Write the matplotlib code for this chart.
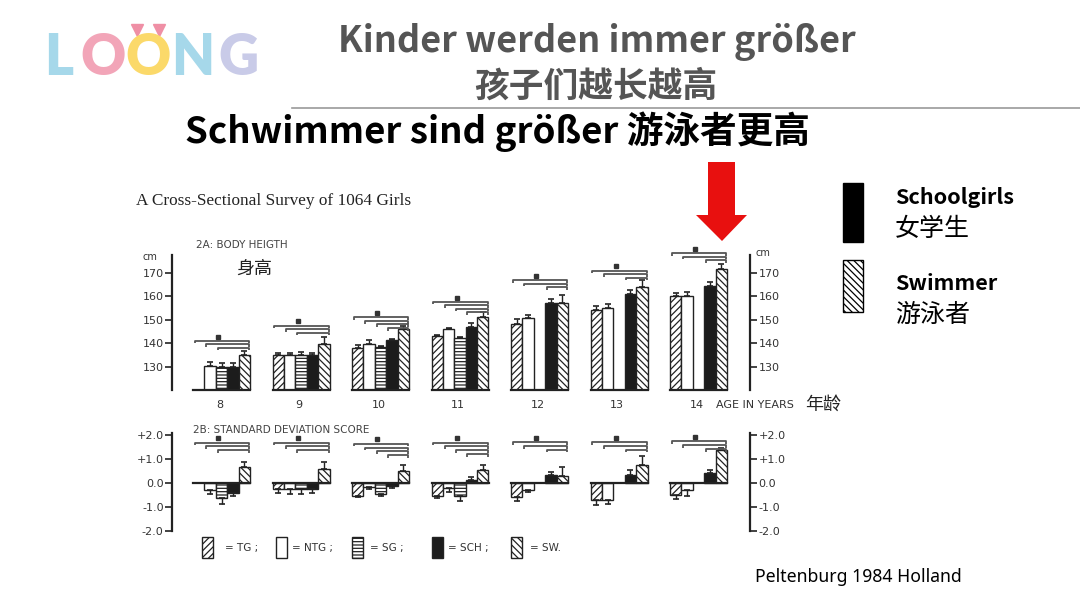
import numpy as np
import matplotlib.pyplot as plt
from matplotlib.patches import Rectangle, Polygon

plt.rcParams['font.family'] = ['DejaVu Sans', 'Noto Sans CJK SC']
plt.rcParams['hatch.linewidth'] = 0.9

CJK = ['Noto Sans CJK SC', 'DejaVu Sans']

# ---- data ----
ages = ['8', '9', '10', '11', '12', '13', '14']
groups = ['TG', 'NTG', 'SG', 'SCH', 'SW']
nan = np.nan

# 2A body height (cm)
height_tg = [nan, 135.0, 137.8, 143.1, 148.2, 154.2, 160.3]
height_ntg = [130.4, 135.0, 139.5, 146.0, 150.6, 154.9, 160.3]
height_sg = [130.0, 135.0, 138.4, 142.1, nan, nan, nan]
height_sch = [130.0, 134.8, 141.4, 147.0, 157.3, 161.0, 164.4]
height_sw = [134.8, 139.7, 145.9, 151.1, 157.3, 164.2, 171.7]

height_err_tg = [nan, 0.7, 1.4, 0.3, 2.0, 1.7, 1.3]
height_err_ntg = [1.4, 1.0, 1.9, 0.3, 1.3, 1.9, 1.7]
height_err_sg = [1.4, 1.3, 0.3, 0.4, nan, nan, nan]
height_err_sch = [1.4, 1.1, 0.2, 1.7, 1.4, 1.7, 1.6]
height_err_sw = [1.9, 2.8, 1.4, 2.4, 3.3, 2.6, 2.0]

# 2B standard deviation score
sds_tg = [nan, -0.25, -0.53, -0.55, -0.58, -0.70, -0.50]
sds_ntg = [-0.30, -0.25, -0.15, -0.20, -0.30, -0.70, -0.28]
sds_sg = [-0.62, -0.25, -0.45, -0.53, nan, nan, nan]
sds_sch = [-0.39, -0.25, -0.10, 0.15, 0.35, 0.35, 0.44]
sds_sw = [0.67, 0.60, 0.50, 0.55, 0.30, 0.76, 1.39]

sds_err_tg = [nan, 0.15, 0.05, 0.05, 0.17, 0.20, 0.15]
sds_err_ntg = [0.15, 0.20, 0.10, 0.15, 0.05, 0.15, 0.27]
sds_err_sg = [0.23, 0.20, 0.10, 0.22, nan, nan, nan]
sds_err_sch = [0.16, 0.15, 0.10, 0.10, 0.10, 0.20, 0.12]
sds_err_sw = [0.21, 0.30, 0.25, 0.20, 0.37, 0.36, 0.10]

# significance brackets (bar index pairs), from the top one downwards
sig_pairs = [
    [(0, 4), (1, 4), (2, 4)],
    [(0, 4), (1, 4), (2, 4)],
    [(0, 4), (1, 4), (2, 4), (3, 4)],
    [(0, 4), (1, 4), (2, 4), (3, 4)],
    [(0, 4), (1, 4), (3, 4)],
    [(0, 4), (1, 4), (3, 4)],
    [(0, 4), (1, 4), (3, 4)],
]
sig_top_cm = [141.0, 147.5, 151.0, 157.7, 167.0, 171.0, 178.5]
sig_top_sds = [1.70, 1.70, 1.65, 1.70, 1.72, 1.72, 1.75]

heights = [height_tg, height_ntg, height_sg, height_sch, height_sw]
height_errs = [height_err_tg, height_err_ntg, height_err_sg, height_err_sch, height_err_sw]
sds = [sds_tg, sds_ntg, sds_sg, sds_sch, sds_sw]
sds_errs = [sds_err_tg, sds_err_ntg, sds_err_sg, sds_err_sch, sds_err_sw]

faces = ['white', 'white', 'white', '#1c1c1c', 'white']
hatches = ['/////', None, '-----', None, '\\\\\\\\\\']

W, H = 1080, 608


def fx(x):
    return x / W


def fy(y):
    return 1 - y / H


fig = plt.figure(figsize=(10.8, 6.08), dpi=100)
fig.patch.set_facecolor('white')

bw = 11.4 / 79.5
offs = (np.arange(5) - 2) * bw
xlim = ((172 - 221.5) / 79.5, (750 - 221.5) / 79.5)
ink = '#222222'


def draw_brackets(ax, i, pairs, top, step, tick, dot):
    for k, (a, b) in enumerate(pairs):
        h = top - k * step
        xa = i + offs[a] - bw * 0.35
        xb = i + offs[b] + bw * 0.45
        ax.plot([xa, xa, xb, xb], [h - tick, h, h, h - tick], color='#555555',
                lw=1.3, clip_on=False, solid_capstyle='butt')
    ax.plot(i + offs[2] - bw * 0.3, top + dot, marker='s', ms=2.5, color='#333333', clip_on=False)


# ---- 2A body height ----
ax1 = fig.add_axes([fx(172), fy(390), fx(750 - 172), 135 / H])
ax1.set_xlim(*xlim)
ax1.set_ylim(120, 120 + 135 / 2.34)
for g in range(5):
    x = np.arange(7) + offs[g]
    ax1.bar(x, np.array(heights[g]) - 120, bottom=120, width=bw, color=faces[g],
            edgecolor=ink, lw=1.0, hatch=hatches[g])
    ax1.errorbar(x, heights[g], yerr=[np.zeros(7), height_errs[g]], fmt='none',
                 ecolor=ink, elinewidth=1, capsize=2.5, capthick=1.2)
for i in range(7):
    ax1.plot([i + offs[0] - bw / 2, i + offs[4] + bw / 2], [120, 120], color=ink, lw=1.6, clip_on=False)
    draw_brackets(ax1, i, sig_pairs[i], sig_top_cm[i], 1.5, 1.1, 1.8)
for s in ['top', 'bottom']:
    ax1.spines[s].set_visible(False)
for s in ['left', 'right']:
    ax1.spines[s].set_linewidth(1.6)
    ax1.spines[s].set_color(ink)
ax1.set_xticks([])
ax1.set_yticks([130, 140, 150, 160, 170])
ax1.tick_params(axis='y', which='both', left=True, right=True, labelleft=True, labelright=True,
                direction='out', length=5, width=1.2, color=ink, labelsize=8, labelcolor='#333333', pad=1)
ax1.patch.set_alpha(0)

# ---- 2B standard deviation score ----
ax2 = fig.add_axes([fx(172), fy(531), fx(750 - 172), 98 / H])
ax2.set_xlim(*xlim)
ax2.set_ylim(-2.0, 2.1)
for g in range(5):
    x = np.arange(7) + offs[g]
    v = np.array(sds[g])
    e = np.array(sds_errs[g])
    ax2.bar(x, v, width=bw, color=faces[g], edgecolor=ink, lw=1.0, hatch=hatches[g])
    lower = np.where(v < 0, e, 0)
    upper = np.where(v > 0, e, 0)
    ax2.errorbar(x, v, yerr=[lower, upper], fmt='none', ecolor=ink, elinewidth=1,
                 capsize=2.5, capthick=1.2)
for i in range(7):
    ax2.plot([i + offs[0] - bw / 2, i + offs[4] + bw / 2], [0, 0], color=ink, lw=1.6)
    draw_brackets(ax2, i, sig_pairs[i], sig_top_sds[i], 0.16, 0.11, 0.18)
for s in ['top', 'bottom']:
    ax2.spines[s].set_visible(False)
for s in ['left', 'right']:
    ax2.spines[s].set_linewidth(1.6)
    ax2.spines[s].set_color(ink)
ax2.set_xticks([])
ax2.set_yticks([2, 1, 0, -1, -2])
ax2.set_yticklabels(['+2.0', '+1.0', '0.0', '-1.0', '-2.0'])
ax2.tick_params(axis='y', left=True, right=True, labelleft=True, labelright=True,
                direction='out', length=5, width=1.2, color=ink, labelsize=8, labelcolor='#333333', pad=1)
ax2.patch.set_alpha(0)

# age labels
for i, a in enumerate(ages):
    xp = 221.5 + 79.5 * i - 2
    fig.text(fx(xp), fy(405), a, fontsize=8, color='#333333', ha='center', va='center')
fig.text(fx(716), fy(405), 'AGE IN YEARS', fontsize=8, color='#333333', ha='left', va='center')
fig.text(fx(805), fy(405), '年龄', fontsize=13, color='#222222', family=CJK, ha='left', va='center')

fig.text(fx(150), fy(257), 'cm', fontsize=7, color='#333333', ha='center', va='center')
fig.text(fx(763), fy(253), 'cm', fontsize=7, color='#333333', ha='center', va='center')
fig.text(fx(196), fy(245), '2A: BODY HEIGTH', fontsize=7.5, color='#444444', ha='left', va='center')
fig.text(fx(236), fy(269), '身高', fontsize=13, color='#222222', family=CJK, ha='left', va='center')
fig.text(fx(193), fy(430), '2B: STANDARD DEVIATION SCORE', fontsize=7.5, color='#444444',
         ha='left', va='center')
fig.text(fx(136), fy(201), 'A Cross-Sectional Survey of 1064 Girls', fontsize=12.4,
         family='Liberation Serif', color='#222222', ha='left', va='center')

# bottom legend
leg_box_x = [202, 276, 352, 432, 511]
leg_text_x = [225, 292, 370, 448, 530]
leg_labels = ['= TG ;', '= NTG ;', '= SG ;', '= SCH ;', '= SW.']
for k in range(5):
    fig.add_artist(Rectangle((fx(leg_box_x[k]), fy(558)), fx(11), 21 / H, transform=fig.transFigure,
                             facecolor=faces[k], edgecolor=ink, lw=1.0, hatch=hatches[k]))
    fig.text(fx(leg_text_x[k]), fy(548), leg_labels[k], fontsize=7.5, color='#333333',
             ha='left', va='center')

# ---- slide decorations ----
logo_letters = ['L', 'O', 'O', 'N', 'G']
logo_colors = ['#a6d8ea', '#f2a5b8', '#fbd96a', '#a6d8ea', '#c9cbe8']
logo_x = [59, 103, 148, 193, 238]
for ch, c, x in zip(logo_letters, logo_colors, logo_x):
    fig.text(fx(x), fy(58), ch, fontsize=40, fontweight='heavy', family='Lato', color=c,
             ha='center', va='center')
fig.add_artist(plt.Line2D([fx(137), fx(159)], [fy(30), fy(30)], transform=fig.transFigure,
                          ls='none', marker='v', ms=8, color='#ef8fa5'))

fig.text(fx(597), fy(42), 'Kinder werden immer größer', fontsize=26, fontweight='bold',
         family=CJK, color='#555555', ha='center', va='center')
fig.text(fx(596), fy(86), '孩子们越长越高', fontsize=25, fontweight='bold',
         family=CJK, color='#555555', ha='center', va='center')
fig.add_artist(plt.Line2D([fx(292), fx(1080)], [fy(108), fy(108)], color='#9a9a9a', lw=1.2))

fig.text(fx(185), fy(132), 'Schwimmer sind größer 游泳者更高', fontsize=26.4, fontweight='bold',
         family=CJK, color='black', ha='left', va='center')

arrow_px = [(708, 162), (735, 162), (735, 215), (747, 215), (722, 241), (696, 215), (708, 215)]
fig.add_artist(Polygon([(fx(x), fy(y)) for x, y in arrow_px], closed=True,
                       transform=fig.transFigure, facecolor='#e8100f', edgecolor='none'))

fig.add_artist(Rectangle((fx(843), fy(242)), fx(20), 59 / H, transform=fig.transFigure,
                         facecolor='black', edgecolor='black'))
fig.add_artist(Rectangle((fx(843), fy(312)), fx(20), 52 / H, transform=fig.transFigure,
                         facecolor='white', edgecolor='black', lw=1.0, hatch='\\\\\\\\\\'))
fig.text(fx(895), fy(197), 'Schoolgirls', fontsize=15.5, fontweight='bold', family=CJK,
         color='black', ha='left', va='center')
fig.text(fx(895), fy(229), '女学生', fontsize=18, family=CJK, color='black', ha='left', va='center')
fig.text(fx(895), fy(283), 'Swimmer', fontsize=15.5, fontweight='bold', family=CJK,
         color='black', ha='left', va='center')
fig.text(fx(895), fy(315), '游泳者', fontsize=18, family=CJK, color='black', ha='left', va='center')

fig.text(fx(755), fy(577), 'Peltenburg 1984 Holland', fontsize=12.7, family='Noto Sans',
         color='black', ha='left', va='center')

fig.savefig('out.png', dpi=100, facecolor='white')
